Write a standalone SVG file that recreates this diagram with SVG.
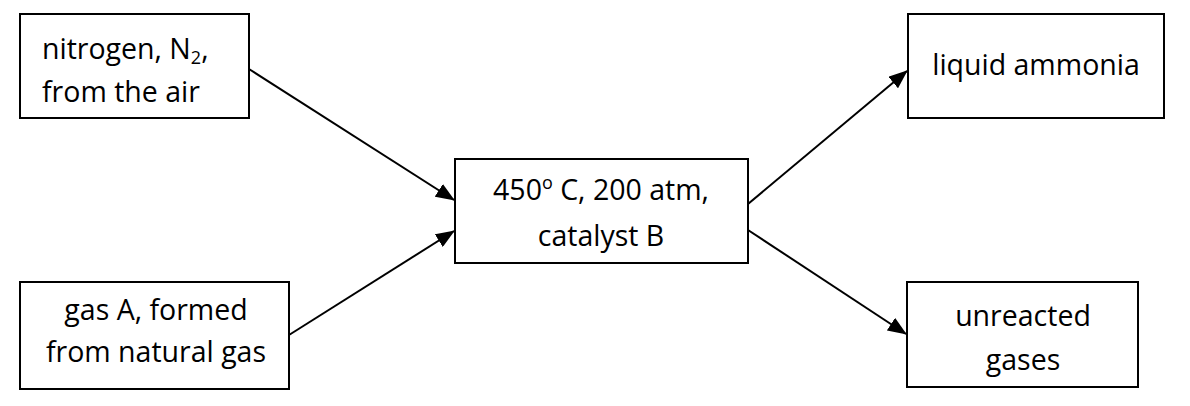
<svg xmlns="http://www.w3.org/2000/svg" width="1190" height="406" viewBox="0 0 1190 406">
<style>
.box{fill:#fff;stroke:#000;stroke-width:2}
.t{font-family:"Open Sans","Liberation Sans",sans-serif;font-size:28.5px;fill:#000;text-anchor:middle}
.l{text-anchor:start}
.c{stroke:#000;stroke-width:2;fill:none;marker-end:url(#ah)}
</style>
<defs>
<marker id="ah" markerUnits="userSpaceOnUse" markerWidth="19" markerHeight="15" refX="18" refY="7.5" orient="auto">
<path d="M0,0 L19,7.5 L0,15 Z" fill="#000"/>
</marker>
</defs>
<rect width="1190" height="406" fill="#fff"/>
<g id="connectors">
<line class="c" x1="249" y1="69" x2="454" y2="200"/>
<line class="c" x1="289" y1="335" x2="454" y2="231"/>
<line class="c" x1="748" y1="204" x2="907" y2="71"/>
<line class="c" x1="748" y1="230" x2="906" y2="334"/>
</g>
<g id="n2">
<rect class="box" x="20" y="14" width="229" height="104"/>
<text class="t l" x="42" y="59">nitrogen, N<tspan font-size="18" dy="5">2</tspan><tspan dy="-5">,</tspan></text>
<text class="t l" x="42" y="102">from the air</text>
</g>
<g id="gasA">
<rect class="box" x="20" y="282" width="269" height="107"/>
<text class="t" x="156" y="320">gas A, formed</text>
<text class="t" x="156" y="362">from natural gas</text>
</g>
<g id="reactor">
<rect class="box" x="455" y="159" width="293" height="104"/>
<text class="t" x="601" y="200">450<tspan font-size="18" dy="-11">o</tspan><tspan dy="11"> C, 200 atm,</tspan></text>
<text class="t" x="601" y="246">catalyst B</text>
</g>
<g id="ammonia">
<rect class="box" x="908" y="14" width="256" height="104"/>
<text class="t" x="1036" y="75">liquid ammonia</text>
</g>
<g id="unreacted">
<rect class="box" x="907" y="282" width="231" height="105"/>
<text class="t" x="1023" y="326">unreacted</text>
<text class="t" x="1023" y="370">gases</text>
</g>
</svg>
